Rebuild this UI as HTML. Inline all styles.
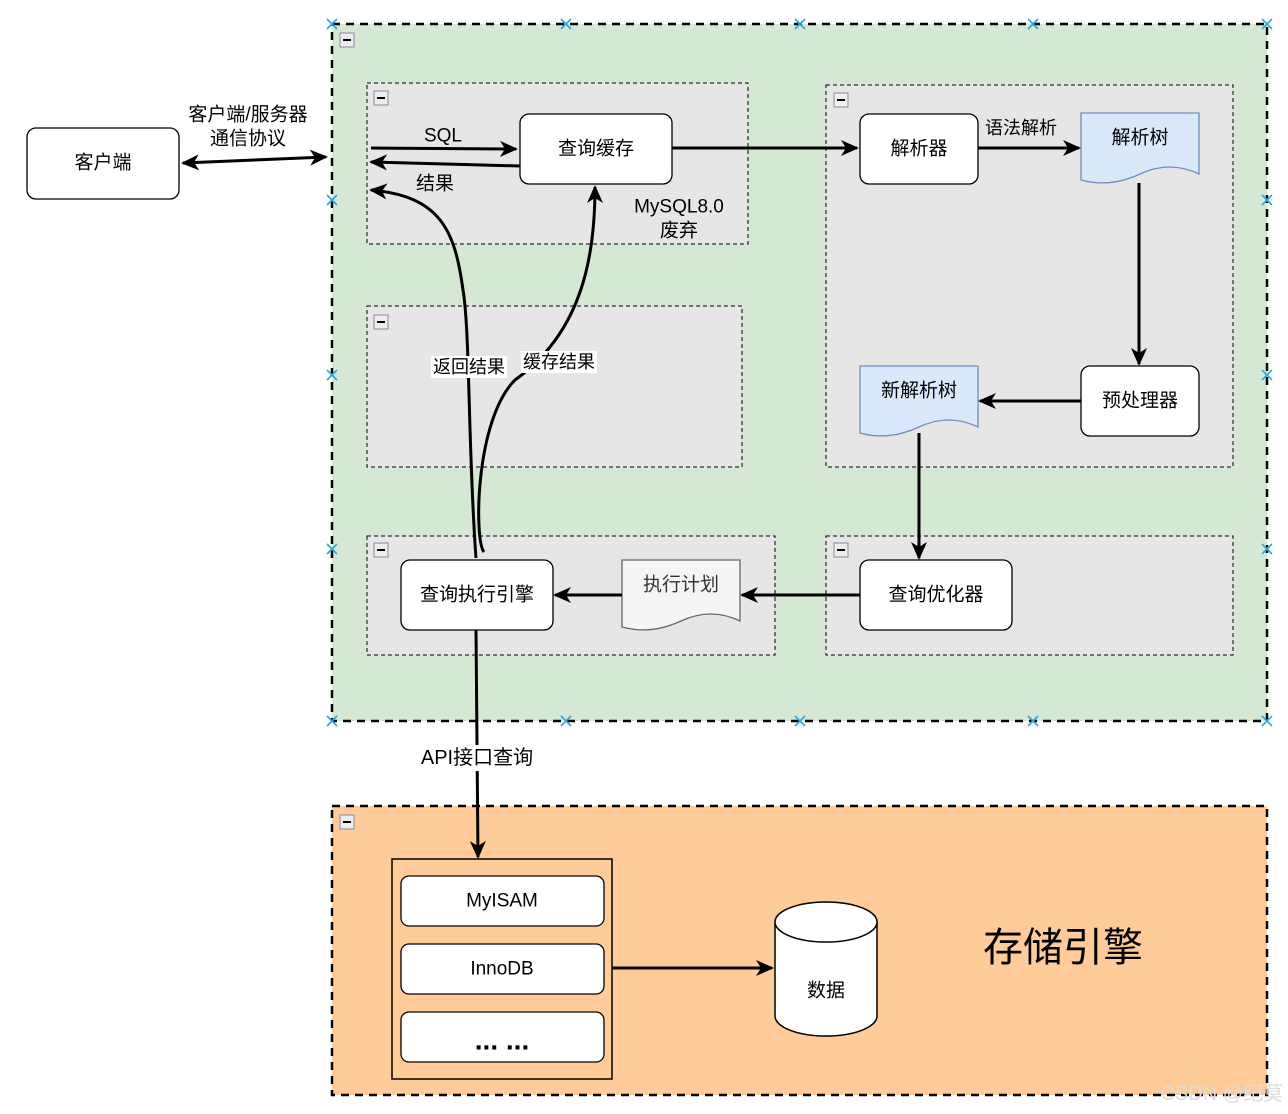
<!DOCTYPE html>
<html><head><meta charset="utf-8"><style>
body{margin:0;background:#fff;}
svg{display:block;font-family:"Liberation Sans","Noto Sans CJK SC",sans-serif;}
</style></head><body>
<svg width="1288" height="1114" viewBox="0 0 1288 1114" xmlns="http://www.w3.org/2000/svg">
<defs>
<marker id="a" viewBox="-20 -10 24 20" refX="0" refY="0" markerWidth="24" markerHeight="20" orient="auto-start-reverse" markerUnits="userSpaceOnUse">
<path d="M-16,-8 L2,0 L-16,8 L-11,0 Z" fill="#000"/>
</marker>
</defs>
<style>
.b{fill:#fff;stroke:#000;stroke-width:1.3}
.t{text-anchor:middle;dominant-baseline:central}
.l{stroke:#000;stroke-width:3;fill:none}
</style>
<rect x="332" y="24" width="935" height="697" fill="#d5e8d4" stroke="#000" stroke-width="2.5" stroke-dasharray="8,6"/>
<rect x="332" y="806" width="935" height="289" fill="#ffcc99" stroke="#000" stroke-width="2.5" stroke-dasharray="8,6"/>
<g fill="#e6e6e6" stroke="#000" stroke-width="1" stroke-dasharray="4,3">
<rect x="367" y="83" width="381" height="161"/>
<rect x="826" y="85" width="407" height="382"/>
<rect x="367" y="306" width="375" height="161"/>
<rect x="367" y="536" width="408" height="119"/>
<rect x="826" y="536" width="407" height="119"/>
</g>
<g fill="#eee" stroke="#889" stroke-width="1">
<rect x="340" y="33" width="14" height="14"/><rect x="374" y="91" width="14" height="14"/><rect x="834" y="93" width="14" height="14"/>
<rect x="374" y="315" width="14" height="14"/><rect x="374" y="543" width="14" height="14"/><rect x="834" y="543" width="14" height="14"/>
<rect x="340" y="815" width="14" height="14"/>
</g>
<g stroke="#000" stroke-width="2">
<path d="M343,40h8M377,98h8M837,100h8M377,322h8M377,550h8M837,550h8M343,822h8"/>
</g>
<g stroke="#29a8e0" stroke-width="1.6">
<path d="M327,19l10,10M337,19l-10,10 M561,19l10,10M571,19l-10,10 M795,19l10,10M805,19l-10,10 M1028,19l10,10M1038,19l-10,10 M1262,19l10,10M1272,19l-10,10
M327,195l10,10M337,195l-10,10 M1262,195l10,10M1272,195l-10,10 M327,370l10,10M337,370l-10,10 M1262,370l10,10M1272,370l-10,10
M327,544l10,10M337,544l-10,10 M1262,544l10,10M1272,544l-10,10
M327,716l10,10M337,716l-10,10 M561,716l10,10M571,716l-10,10 M795,716l10,10M805,716l-10,10 M1028,716l10,10M1038,716l-10,10 M1262,716l10,10M1272,716l-10,10"/>
</g>
<g font-size="19">
<rect class="b" x="27" y="128" width="152" height="71" rx="9"/><text class="t" x="103" y="163">客户端</text>
<rect class="b" x="520" y="114" width="152" height="70" rx="9"/><text class="t" x="596" y="149">查询缓存</text>
<rect class="b" x="860" y="114" width="118" height="70" rx="9"/><text class="t" x="919" y="149">解析器</text>
<path d="M1081,113H1199V174Q1170,160 1140,174T1081,180Z" fill="#dae8fc" stroke="#6c8ebf" stroke-width="1.3"/><text class="t" x="1140" y="138">解析树</text>
<rect class="b" x="1081" y="366" width="118" height="70" rx="9"/><text class="t" x="1140" y="401">预处理器</text>
<path d="M860,366H978V427Q949,413 919,427T860,433Z" fill="#dae8fc" stroke="#6c8ebf" stroke-width="1.3"/><text class="t" x="919" y="391">新解析树</text>
<rect class="b" x="860" y="560" width="152" height="70" rx="9"/><text class="t" x="936" y="595">查询优化器</text>
<path d="M622,560H740V621Q711,607 681,621T622,627Z" fill="#f5f5f5" stroke="#666" stroke-width="1.3"/><text class="t" x="681" y="585" fill="#333">执行计划</text>
<rect class="b" x="401" y="560" width="152" height="70" rx="9"/><text class="t" x="477" y="595">查询执行引擎</text>
<rect x="392" y="859" width="220" height="220" fill="none" stroke="#000" stroke-width="1.5"/>
<rect class="b" x="401" y="876" width="203" height="50" rx="8"/><text class="t" x="502" y="901">MyISAM</text>
<rect class="b" x="401" y="944" width="203" height="50" rx="8"/><text class="t" x="502" y="969">InnoDB</text>
<rect class="b" x="401" y="1012" width="203" height="50" rx="8"/><text class="t" x="502" y="1040" style="font-size:28px;font-weight:bold">... ...</text>
<path d="M775,922V1016A51,20 0 0 0 877,1016V922A51,20 0 0 0 775,922A51,20 0 0 0 877,922" fill="#fff" stroke="#000" stroke-width="1.5"/>
<text class="t" x="826" y="991">数据</text>
<text class="t" x="1063" y="948" style="font-size:40px">存储引擎</text>
<path class="l" d="M183,163L326,157" marker-start="url(#a)" marker-end="url(#a)"/>
<text class="t" x="248" y="115">客户端/服务器</text><text class="t" x="248" y="139">通信协议</text>
<path class="l" d="M371,148L516,149" marker-end="url(#a)"/><text class="t" x="443" y="136">SQL</text>
<path class="l" d="M520,166L371,162" marker-end="url(#a)"/><text class="t" x="435" y="184">结果</text>
<text class="t" x="679" y="207">MySQL8.0</text><text class="t" x="679" y="231">废弃</text>
<path class="l" d="M672,148L857,148" marker-end="url(#a)"/>
<path class="l" d="M978,148L1079,148" marker-end="url(#a)"/>
<rect x="983" y="117" width="76" height="22" fill="#e6e6e6"/><text class="t" x="1021" y="128" style="font-size:18px">语法解析</text>
<path class="l" d="M1139,183L1139,364" marker-end="url(#a)"/>
<path class="l" d="M1081,401L980,401" marker-end="url(#a)"/>
<path class="l" d="M919,433L919,558" marker-end="url(#a)"/>
<path class="l" d="M860,595L742,595" marker-end="url(#a)"/>
<path class="l" d="M622,595L555,595" marker-end="url(#a)"/>
<path class="l" d="M476,558C468,450 470,330 463,290C455,230 440,196 371,190" marker-end="url(#a)"/>
<path class="l" d="M484,552C474,540 475,420 515,380C585,330 595,250 595,187" marker-end="url(#a)"/>
<rect x="431" y="356" width="76" height="22" fill="#fff"/><text class="t" x="469" y="367" style="font-size:18px">返回结果</text>
<rect x="521" y="351" width="76" height="22" fill="#fff"/><text class="t" x="559" y="362" style="font-size:18px">缓存结果</text>
<path class="l" d="M476,630L478,857" marker-end="url(#a)"/>
<rect x="412" y="745" width="130" height="26" fill="#fff"/><text class="t" x="477" y="758" style="font-size:20px">API接口查询</text>
<path class="l" d="M612,968L772,968" marker-end="url(#a)"/>
<text x="1283" y="1100" style="font-size:20px" fill="#ddd" text-anchor="end">CSDN @纪莫</text>
</g>
</svg>
</body></html>
